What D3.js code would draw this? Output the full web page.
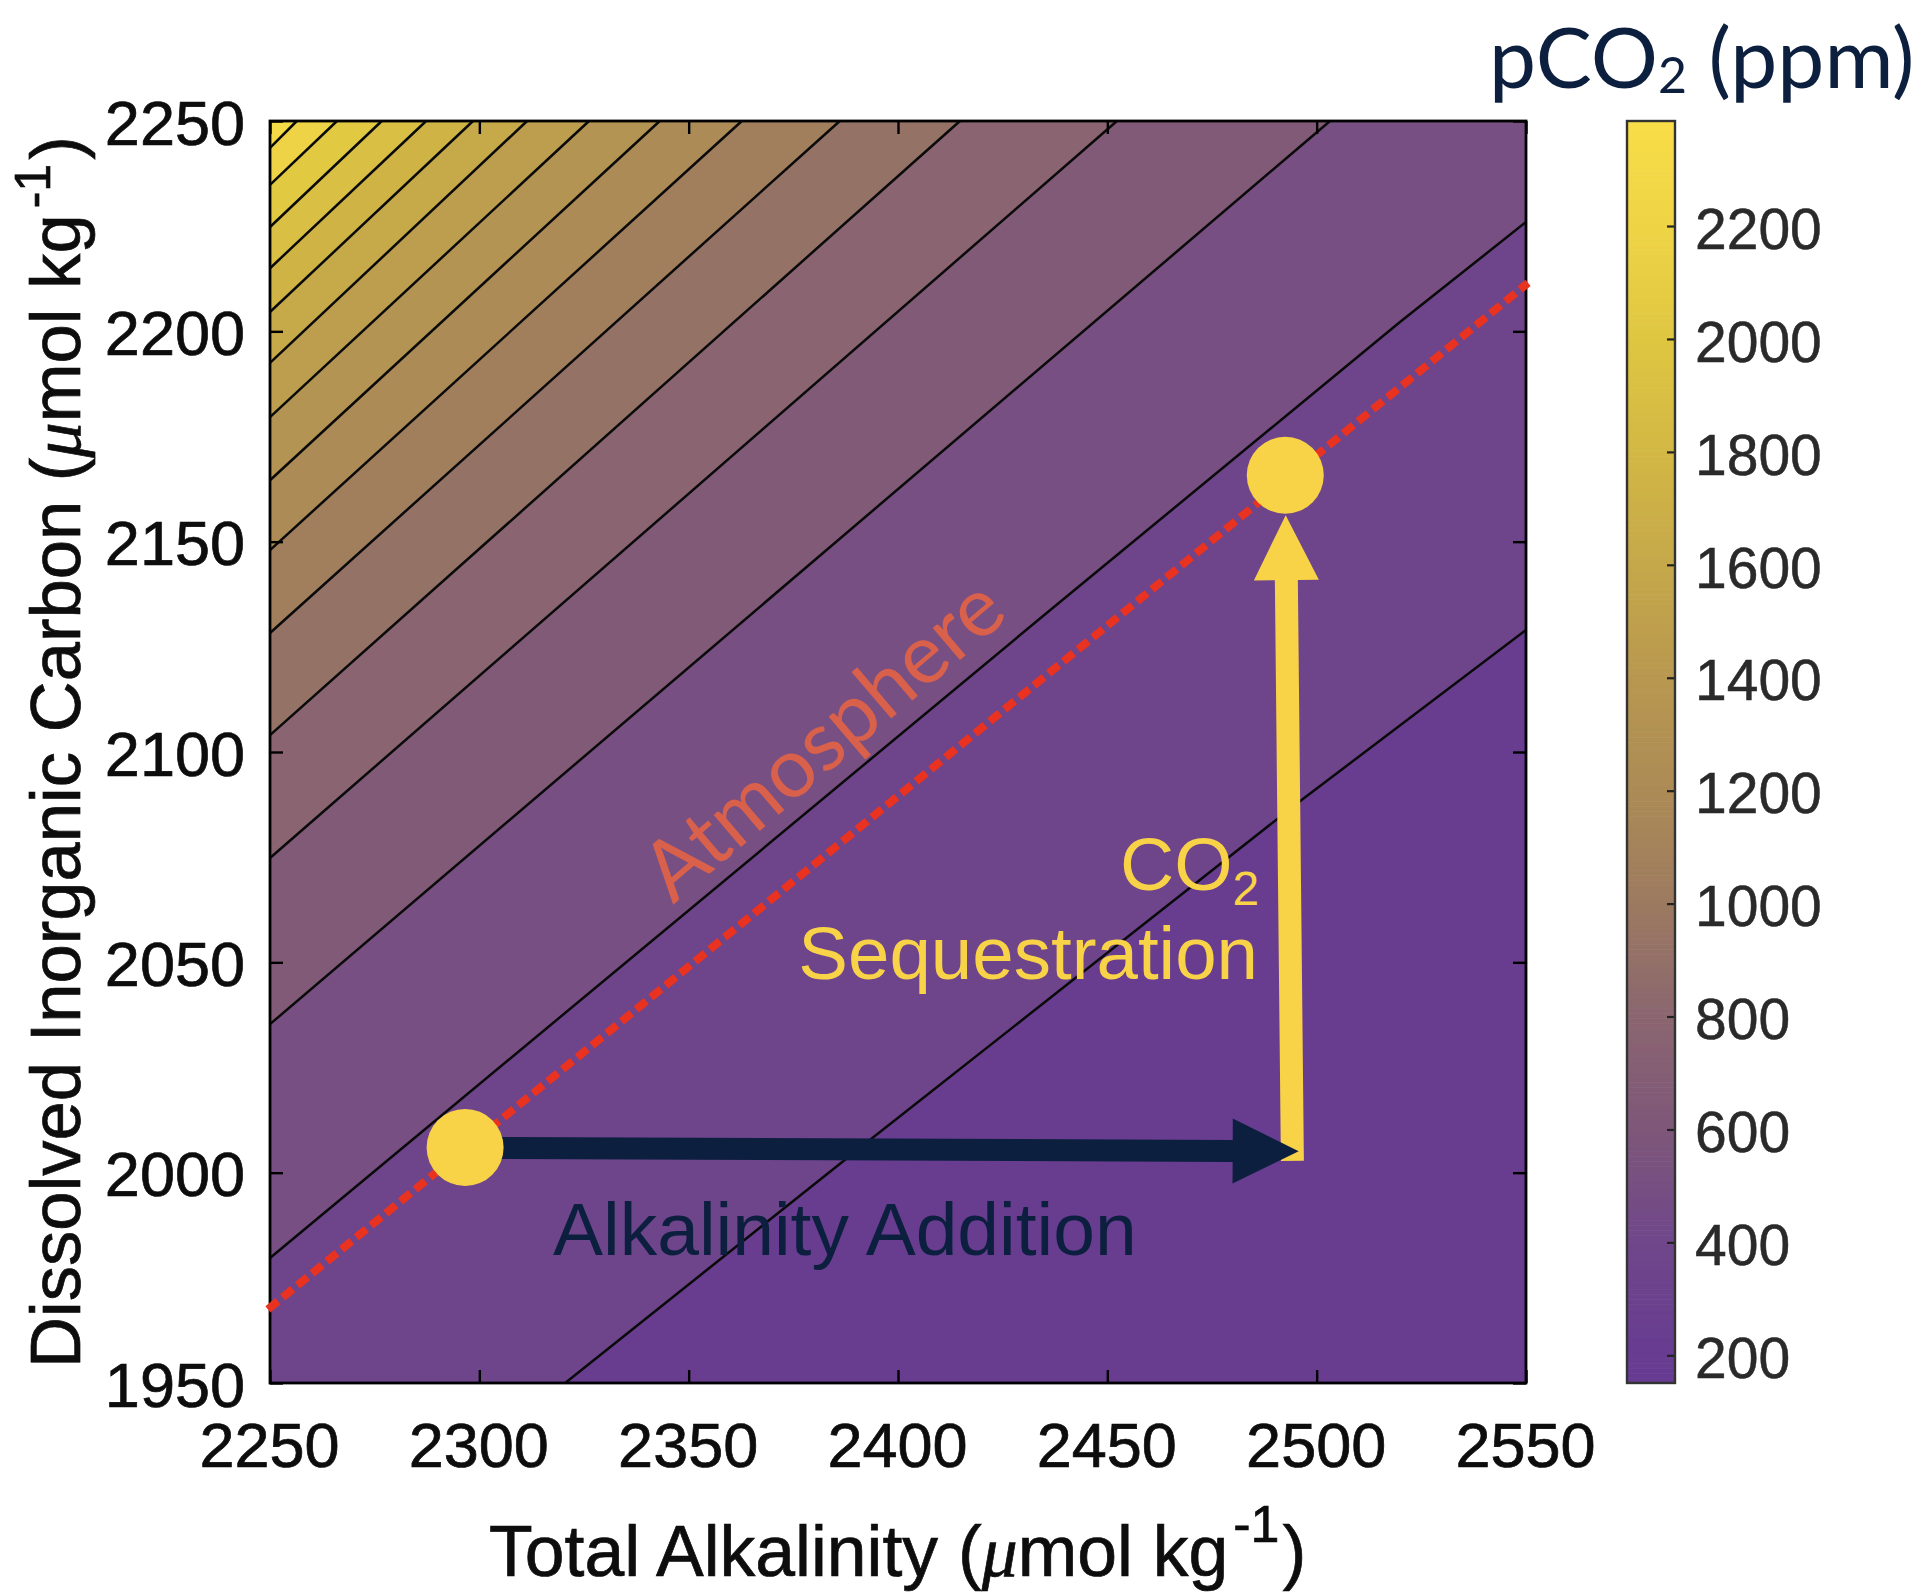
<!DOCTYPE html>
<html><head><meta charset="utf-8">
<script src="https://cdnjs.cloudflare.com/ajax/libs/d3/7.8.5/d3.min.js"></script>
<style>
html,body{margin:0;padding:0;background:#fff}
svg{display:block}
text{font-family:"Liberation Sans",Arial,sans-serif}
.axis path{display:none}
.axis line{stroke:#000;stroke-width:2.4}
.axis text{font-family:"Liberation Sans",Arial,sans-serif;font-size:63px;fill:#0d0d0d;stroke:#0d0d0d;stroke-width:.7}
.cb line{stroke:#222;stroke-width:2.2}
.cb text{font-family:"Liberation Sans",Arial,sans-serif;font-size:57px;fill:#2a2a2a;stroke:#2a2a2a;stroke-width:.5}
.title{fill:#0d0d0d;stroke:#0d0d0d;stroke-width:.7}
</style></head><body>
<svg id="chart" width="1918" height="1592"></svg>
<script>
// ---- data ----
const xTicks = [2250,2300,2350,2400,2450,2500,2550];
const yTicks = [1950,2000,2050,2100,2150,2200,2250];
const colorTicks = [200,400,600,800,1000,1200,1400,1600,1800,2000,2200];
const taDomain = [2250,2550];
const dicDomain = [1950,2250];
const colorDomain = [151,2386];
// colormap stops
const cmapValues = [151,200,400,600,800,1000,1200,1400,1600,1800,2000,2200,2386];
const cmapColors = ["#663b91","#673c91","#70478a","#7e5779","#8b6670","#9c7a60","#ac8b56","#b89850","#c5a84a","#d2b744","#dfc641","#eed445","#f8dd48"];
// contour levels, low to high, and the line of each level as [TA, DIC] points
const contourLevels = [290,430,570,710,850,990,1130,1270,1410,1550,1690,1830,1970,2110,2250];
const contourPaths = [
  [[2320.5,1950],[2393.8,2008.2],[2496,2088.3],[2550,2129]],
  [[2250,1979.7],[2436.3,2133.7],[2519.9,2202.2],[2550,2226]],
  [[2250,2035.3],[2503.2,2250]],
  [[2250,2074.8],[2452.3,2250]],
  [[2250,2104],[2414.8,2250]],
  [[2250,2128.3],[2386.1,2250]],
  [[2250,2148],[2362.7,2250]],
  [[2250,2164.6],[2343.1,2250]],
  [[2250,2179.6],[2326.2,2250]],
  [[2250,2192.5],[2311.4,2250]],
  [[2250,2204.6],[2298.5,2250]],
  [[2250,2215],[2287.3,2250]],
  [[2250,2224.8],[2276.7,2250]],
  [[2250,2234.8],[2266,2250]],
  [[2250,2243.6],[2256.4,2250]]
];
const atmosphereLine = [[2249.5,1967.5],[2550.5,2211.5]];
const markerPoints = [[2296.6,2006],[2492.5,2165.8]];
const alkalinityArrow = [[2296.6,2005.9],[2495.7,2005.1]];
const sequestrationArrow = [[2494.2,2002.8],[2492.6,2156.3]];

// ---- layout ----
const plot = {l:270,r:1526,t:121,b:1383};
const bar = {l:1627,r:1675};
const navy="#0c1f3f", gold="#f8d247";

const svg = d3.select("#chart");
const x = d3.scaleLinear().domain(taDomain).range([plot.l,plot.r]);
const y = d3.scaleLinear().domain(dicDomain).range([plot.b,plot.t]);
const cmap = d3.scaleLinear().domain(cmapValues).range(cmapColors).interpolate(d3.interpolateRgb);
const cy = d3.scaleLinear().domain(colorDomain).range([plot.b,plot.t]);

// filled bands
const bandBounds = [colorDomain[0],...contourLevels,colorDomain[1]];
const bandColor = i => cmap((bandBounds[i]+bandBounds[i+1])/2);
svg.append("rect").attr("x",plot.l).attr("y",plot.t).attr("width",plot.r-plot.l).attr("height",plot.b-plot.t).attr("fill",bandColor(0));
const line = d3.line().x(d=>x(d[0])).y(d=>y(d[1]));
contourPaths.forEach((p,i)=>{
  const poly=[...p];
  const s=p[0], e=p[p.length-1];
  if(e[0]===taDomain[1]) poly.push([taDomain[1],dicDomain[1]]);
  poly.push([taDomain[0],dicDomain[1]]);
  if(s[1]===dicDomain[0]) poly.push([taDomain[0],dicDomain[0]]);
  svg.append("path").attr("d",line(poly)+"Z").attr("fill",bandColor(i+1)).attr("stroke",bandColor(i+1)).attr("stroke-width",.5);
});
contourPaths.forEach(p=>{
  svg.append("path").attr("d",line(p)).attr("fill","none").attr("stroke","#0a0a0a").attr("stroke-width",2.5);
});

// axes
const ax = (tr,a)=>svg.append("g").attr("class","axis").attr("transform",tr).call(a);
ax(`translate(0,${plot.b})`,d3.axisBottom(x).tickValues(xTicks).tickSize(-13).tickPadding(39).tickFormat(d3.format("d")))
  .selectAll("text").attr("dx",-1);
ax(`translate(${plot.l},0)`,d3.axisLeft(y).tickValues(yTicks).tickSize(-13).tickPadding(25).tickFormat(d3.format("d")))
  .selectAll("text").attr("dy",".37em");
ax(`translate(0,${plot.t})`,d3.axisTop(x).tickValues(xTicks).tickSize(-13).tickFormat(""));
ax(`translate(${plot.r},0)`,d3.axisRight(y).tickValues(yTicks).tickSize(-13).tickFormat(""));
svg.append("rect").attr("x",plot.l).attr("y",plot.t).attr("width",plot.r-plot.l).attr("height",plot.b-plot.t)
   .attr("fill","none").attr("stroke","#000").attr("stroke-width",2.8);

// colourbar
const steps = d3.range(0,256).map(i=>colorDomain[0]+(colorDomain[1]-colorDomain[0])*i/255);
const barH = (plot.b-plot.t)/256;
svg.append("g").selectAll("rect").data(steps).join("rect")
  .attr("x",bar.l).attr("width",bar.r-bar.l)
  .attr("y",(d,i)=>plot.b-(i+1)*barH).attr("height",barH+.6)
  .attr("fill",d=>cmap(d));
const cbAxis = svg.append("g").attr("class","cb").attr("transform",`translate(${bar.r},0)`)
  .call(d3.axisRight(cy).tickValues(colorTicks).tickSize(-8).tickPadding(20).tickFormat(d3.format("d")));
cbAxis.select("path").remove();
cbAxis.selectAll("text").attr("dy",".39em");
svg.append("rect").attr("x",bar.l).attr("y",plot.t).attr("width",bar.r-bar.l).attr("height",plot.b-plot.t)
   .attr("fill","none").attr("stroke","#333").attr("stroke-width",2.4);

// atmosphere line
svg.append("path").attr("d",line(atmosphereLine)).attr("fill","none")
   .attr("stroke","#e9321f").attr("stroke-width",8).attr("stroke-dasharray","13 6");

// arrows
function arrow(a,hl,hw,sw,color){
  const x0=x(a[0][0]),y0=y(a[0][1]),x1=x(a[1][0]),y1=y(a[1][1]);
  const L=Math.hypot(x1-x0,y1-y0),ux=(x1-x0)/L,uy=(y1-y0)/L,nx=-uy,ny=ux;
  const bx=x1-ux*hl,by=y1-uy*hl;
  const pts=[[x0+nx*sw/2,y0+ny*sw/2],[bx+nx*sw/2,by+ny*sw/2],[bx+nx*hw,by+ny*hw],[x1,y1],
             [bx-nx*hw,by-ny*hw],[bx-nx*sw/2,by-ny*sw/2],[x0-nx*sw/2,y0-ny*sw/2]];
  svg.append("polygon").attr("points",pts.map(p=>p.join(",")).join(" ")).attr("fill",color);
}
arrow(sequestrationArrow,65,32.5,23,gold);
arrow(alkalinityArrow,66,32.5,22,navy);

svg.append("g").selectAll("circle").data(markerPoints).join("circle")
  .attr("cx",d=>x(d[0])).attr("cy",d=>y(d[1])).attr("r",38.5).attr("fill",gold);

// axis titles
const xt = svg.append("text").attr("class","title").attr("x",489).attr("y",1576).attr("font-size",71.5);
xt.append("tspan").text("Total Alkalinity (");
xt.append("tspan").text("\u03bc").attr("font-style","italic").attr("style","font-family:'Liberation Serif'");
xt.append("tspan").text("mol kg");
xt.append("tspan").text("-1").attr("font-size",52).attr("dy",-34).attr("dx",5);
xt.append("tspan").text(")").attr("dy",34).attr("dx",3);

const yt = svg.append("text").attr("class","title").attr("transform","translate(80,1368) rotate(-90)").attr("font-size",70.6);
yt.append("tspan").text("Dissolved Inorganic Carbon (");
yt.append("tspan").text("\u03bc").attr("font-style","italic").attr("style","font-family:'Liberation Serif'");
yt.append("tspan").text("mol kg");
yt.append("tspan").text("-1").attr("font-size",50).attr("dy",-30).attr("dx",6);
yt.append("tspan").text(")").attr("dy",30).attr("dx",4);

// annotations
const ct = svg.append("text").attr("x",1489).attr("y",88).attr("fill",navy).attr("style","font-family:'Lato'").attr("font-size",84);
ct.append("tspan").text("pCO");
ct.append("tspan").text("2").attr("font-size",50).attr("dy",5);
ct.append("tspan").text(" (ppm)").attr("dy",-5);

svg.append("text").attr("x",553).attr("y",1255).attr("font-size",75).attr("fill",navy).text("Alkalinity Addition");
svg.append("text").attr("x",1258).attr("y",979).attr("text-anchor","end").attr("font-size",74.5).attr("fill",gold).text("Sequestration");
const co = svg.append("text").attr("x",1120).attr("y",890).attr("font-size",75).attr("fill",gold);
co.append("tspan").text("CO");
co.append("tspan").text("2").attr("font-size",48).attr("dy",15);
svg.append("text").attr("transform","translate(673,905) rotate(-40.5)").attr("font-size",83)
   .attr("fill","#d9604a").attr("style","font-family:'Lato'").text("Atmosphere");
</script>
</body></html>
